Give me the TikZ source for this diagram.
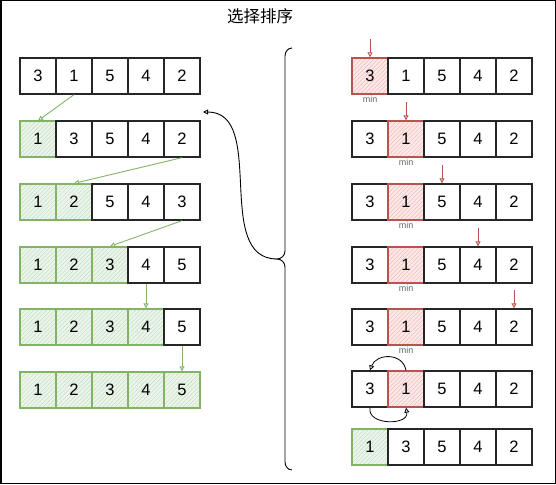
\documentclass[tikz,border=0pt]{standalone}
\usepackage{fontspec}
\setmainfont{Liberation Sans}
\newfontfamily\cjk{Noto Sans CJK SC}
\usepackage{xcolor}
\usepackage{tikz}
\usetikzlibrary{arrows.meta,positioning,calc,patterns.meta}

\definecolor{grline}{HTML}{82B366}
\definecolor{grfill}{HTML}{D5E8D4}
\definecolor{rdline}{HTML}{B85450}
\definecolor{rdfill}{HTML}{F8CECC}

\tikzset{
  cell/.style={draw=black!85, line width=1.3pt, minimum size=36pt, inner sep=0pt, font=\fontsize{16.5}{18}\selectfont},
  donecell/.style={cell, draw=grline, preaction={fill=grfill!45}, pattern={Lines[angle=45,distance=3pt,line width=0.5pt]}, pattern color=grfill!80!grline},
  mincell/.style={cell, draw=rdline, preaction={fill=rdfill!45}, pattern={Lines[angle=45,distance=3pt,line width=0.5pt]}, pattern color=rdfill!85!rdline},
  minlabel/.style={font=\fontsize{9}{10}\selectfont, text=black!60, inner sep=1pt},
  grarrow/.style={->, draw=grline, line width=0.9pt},
  rdarrow/.style={->, draw=rdline, line width=0.9pt},
}

\begin{document}
\begin{tikzpicture}[x=1pt, y=1pt, >={Triangle[open,length=5pt,width=5pt]}]
    \useasboundingbox (0,0) rectangle (556,-484);
    \draw[line width=1.5pt] (0.75,-0.75) rectangle (555.25,-483.25);
    \node[font=\cjk\fontsize{16.5}{18}\selectfont] (title) at (260,-16) {选择排序};

    % left: result after each pass
    \foreach \r/\y/\vals/\ng in {1/76/{3,1,5,4,2}/0, 2/139/{1,3,5,4,2}/1, 3/202/{1,2,5,4,3}/2,
                                  4/265/{1,2,3,4,5}/3, 5/327/{1,2,3,4,5}/4, 6/390/{1,2,3,4,5}/5}{
      \foreach \v [count=\c] in \vals {
        \ifnum\c>\ng
          \node[cell] (l\r-\c) at (2+36*\c,-\y) {\v};
        \else
          \node[donecell] (l\r-\c) at (2+36*\c,-\y) {\v};
        \fi
      }
    }
    \draw[grarrow] (l1-2.south) -- (l2-1.north);
    \draw[grarrow] (l2-5.south) -- (l3-2.north);
    \draw[grarrow] (l3-5.south) -- (l4-3.north);
    \draw[grarrow] (l4-4.south) -- (l5-4.north);
    \draw[grarrow] (l5-5.south) -- (l6-5.north);

    % right: first pass, step by step
    \foreach \r/\y/\mk/\pt in {1/76/1/1, 2/139/2/2, 3/202/2/3, 4/265/2/4, 5/327/2/5, 6/389/2/0}{
      \foreach \v [count=\c] in {3,1,5,4,2}{
        \ifnum\c=\mk
          \node[mincell] (r\r-\c) at (334+36*\c,-\y) {\v};
        \else
          \node[cell] (r\r-\c) at (334+36*\c,-\y) {\v};
        \fi
      }
      \ifnum\pt>0
        \node[minlabel, below=0pt of r\r-\mk] (m\r) {min};
        \coordinate (p\r) at ([yshift=18pt]r\r-\pt.north);
        \draw[rdarrow] (p\r) -- (r\r-\pt.north);
      \fi
    }
    \foreach \v [count=\c] in {1,3,5,4,2}{
      \ifnum\c=1
        \node[donecell] (r7-\c) at (334+36*\c,-447) {\v};
      \else
        \node[cell] (r7-\c) at (334+36*\c,-447) {\v};
      \fi
    }
    % swap
    \draw[->, line width=0.8pt] (r6-2.north) to[out=100, in=70, looseness=1.3] (r6-1.north);
    \draw[->, line width=0.8pt] (r6-1.south) to[out=-100, in=-80, looseness=1.3] (r6-2.south);

    % brace and back arrow
    \draw[line width=0.9pt] (292,-48) to[out=180,in=90] (285,-56) -- (285,-251)
        to[out=-90,in=0] (277,-259) coordinate (tip) to[out=0,in=90] (285,-267)
        -- (285,-462) to[out=-90,in=180] (292,-470);
    \coordinate (back) at (203,-112);
    \draw[->, line width=0.9pt] (tip) to[out=180, in=0] (back);
\end{tikzpicture}
\end{document}
